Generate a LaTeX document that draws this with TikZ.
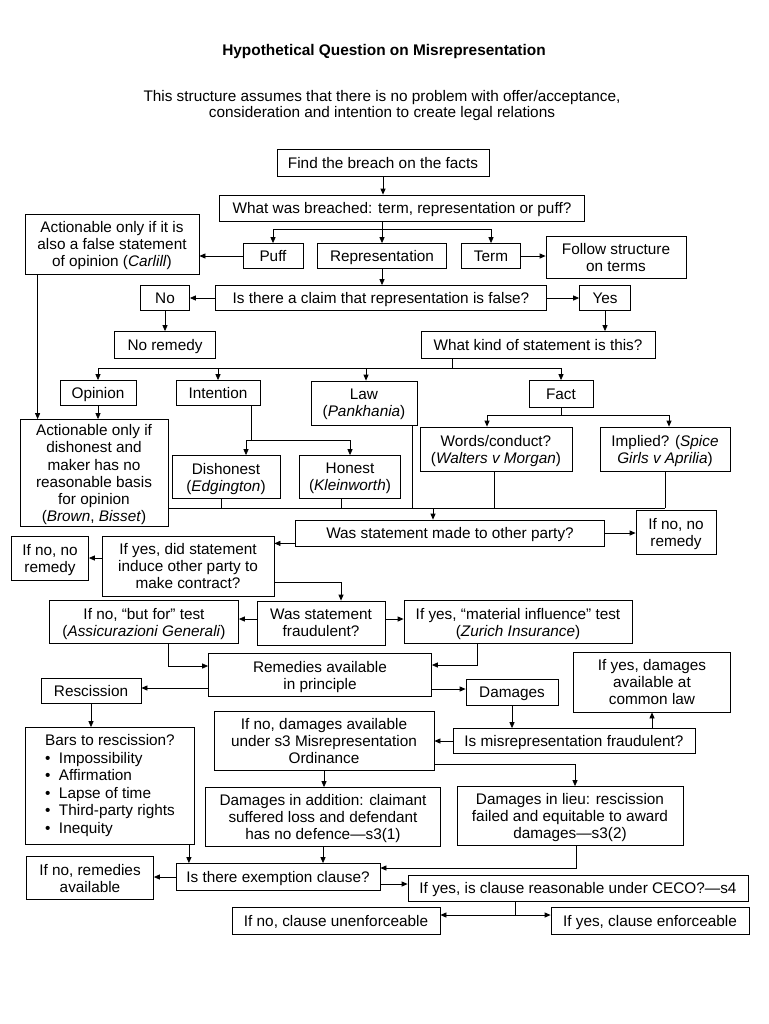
\documentclass[tikz,border=0pt]{standalone}
\usepackage{fontspec}
\setmainfont{Liberation Sans}
\usepackage{tikz}
\usetikzlibrary{positioning,calc}
\usetikzlibrary{arrows.meta}
\tikzset{
	box/.style={draw=black,line width=0.6pt,fill=white,align=center,inner sep=1pt,text depth=0pt,
		font=\fontsize{11.5}{12.8}\selectfont},
	sz/.style 2 args={minimum width=#1*0.75pt,minimum height=#2*0.75pt},
	link/.style={draw=black,line width=0.6pt},
	arr/.style={link,-{Triangle[length=4.5pt,width=3.8pt]}},
}

\begin{document}
\begin{tikzpicture}[x=0.75pt,y=-0.75pt]
	\useasboundingbox (0,0) rectangle (768,1024);
	% headings
	\node[font=\bfseries\fontsize{11.55}{13}\selectfont] (title) at (384,52) {Hypothetical Question on Misrepresentation};
	\node[align=center,font=\fontsize{11.5}{12}\selectfont] (sub) at (382,106)
		{This structure assumes that there is no problem with offer/acceptance,\\consideration and intention to create legal relations};
	% top part
	\node[box,sz={212}{27}] (find) at (383,163) {Find the breach on the facts};
	\node[box,sz={365}{26}] (what) at (402,208) {What was breached: term, representation or puff?};
	\node[box,sz={174}{60}] (carlill) at (112,244) {Actionable only if it is\\also a false statement\\of opinion (\textit{Carlill})};
	\node[box,sz={60}{25}] (puff) at (273,256) {Puff};
	\node[box,sz={129}{25}] (repr) at (382,256) {Representation};
	\node[box,sz={59}{25}] (term) at (491,256) {Term};
	\node[box,sz={140}{42}] (follow) at (616,257) {Follow structure\\on terms};
	\node[box,sz={49}{25}] (no) at (165,298) {No};
	\node[box,sz={331}{25}] (claim) at (381,298) {Is there a claim that representation is false?};
	\node[box,sz={51}{25}] (yes) at (605,298) {Yes};
	\node[box,sz={101}{27}] (noremedy) at (165,345) {No remedy};
	\node[box,sz={234}{27}] (kind) at (538,345) {What kind of statement is this?};
	% kinds of statement
	\node[box,sz={76}{25}] (opinion) at (98,393) {Opinion};
	\node[box,sz={84}{25}] (intention) at (218,393) {Intention};
	\node[box,sz={106}{44}] (law) at (364,403) {Law\\(\textit{Pankhania})};
	\node[box,sz={64}{27}] (fact) at (561,394) {Fact};
	\node[box,sz={148}{107}] (act) at (94,473) {Actionable only if\\dishonest and\\maker has no\\reasonable basis\\for opinion\\(\textit{Brown}, \textit{Bisset})};
	\node[box,sz={108}{43}] (dishonest) at (226,477) {Dishonest\\(\textit{Edgington})};
	\node[box,sz={101}{43}] (honest) at (350,477) {Honest\\(\textit{Kleinworth})};
	\node[box,sz={152}{44}] (words) at (496,449) {Words/conduct?\\(\textit{Walters v Morgan})};
	\node[box,sz={130}{44}] (implied) at (665,449) {Implied? (\textit{Spice}\\\textit{Girls v Aprilia})};
	% inducement
	\node[box,sz={309}{26}] (made) at (450,533) {Was statement made to other party?};
	\node[box,sz={80}{44}] (nor) at (676,532) {If no, no\\remedy};
	\node[box,sz={77}{44}] (nol) at (50,558) {If no, no\\remedy};
	\node[box,sz={172}{60}] (induce) at (188,566) {If yes, did statement\\induce other party to\\make contract?};
	\node[box,sz={189}{43}] (butfor) at (144,622) {If no, “but for” test\\(\textit{Assicurazioni Generali})};
	\node[box,sz={128}{44}] (fraud) at (321,623) {Was statement\\fraudulent?};
	\node[box,sz={228}{43}] (material) at (518,622) {If yes, “material influence” test\\(\textit{Zurich Insurance})};
	% remedies
	\node[box,sz={223}{43}] (remedies) at (320,675) {Remedies available\\in principle};
	\node[box,sz={100}{25}] (rescission) at (91,691) {Rescission};
	\node[box,sz={92}{26}] (damages) at (512,692) {Damages};
	\node[box,sz={157}{60}] (common) at (652,682) {If yes, damages\\available at\\common law};
	\node[box,sz={220}{59}] (ifnodam) at (324,741) {If no, damages available\\under s3 Misrepresentation\\Ordinance};
	\node[box,sz={242}{25}] (isfraud) at (574,741) {Is misrepresentation fraudulent?};
	\node[box,sz={169}{117},text depth={}] (bars) at (110,786) {\renewcommand{\arraystretch}{1.03}\begin{tabular}{@{}c@{}}Bars to rescission?\\
		\begin{tabular}{@{}l@{}}\textbullet\ \ Impossibility\\\textbullet\ \ Affirmation\\\textbullet\ \ Lapse of time\\\textbullet\ \ Third-party rights\\\textbullet\ \ Inequity\end{tabular}\end{tabular}};
	\node[box,sz={235}{59}] (addition) at (323,817) {Damages in addition: claimant\\suffered loss and defendant\\has no defence—s3(1)};
	\node[box,sz={226}{59}] (lieu) at (570,816) {Damages in lieu: rescission\\failed and equitable to award\\damages—s3(2)};
	% exemption clause
	\node[box,sz={127}{43}] (ifnorem) at (90,878) {If no, remedies\\available};
	\node[box,sz={204}{27}] (exempt) at (278,877) {Is there exemption clause?};
	\node[box,sz={340}{26}] (ifyes) at (578,888) {If yes, is clause reasonable under CECO?—s4};
	\node[box,sz={208}{27}] (unenf) at (336,921) {If no, clause unenforceable};
	\node[box,sz={198}{27}] (enf) at (650,921) {If yes, clause enforceable};

	% connector points
	\coordinate (wj) at (383,229);
	\coordinate (kj) at (452,368);
	\coordinate (ij) at (251,440);
	\coordinate (fj) at (561,415);
	\coordinate (mj) at (433,508);
	\coordinate (yj) at (515,915);
	\coordinate (cl) at ($(carlill.south west)+(13,0)$);
	\coordinate (dh) at ($(dishonest.south)+(-5,0)$);
	\coordinate (hn) at ($(honest.south)+(-9,0)$);
	\coordinate (lw) at ($(law.south east)+(-5,0)$);
	\coordinate (wd) at ($(words.south)+(-2,0)$);
	\coordinate (mdw) at ($(made.south west)+(0,-3)$);
	\coordinate (fw) at ($(fraud.west)+(0,-4)$);
	\coordinate (fe) at ($(fraud.east)+(0,-4)$);
	\coordinate (rw) at ($(remedies.west)+(0,13)$);
	\coordinate (re) at ($(remedies.east)+(0,14)$);
	\coordinate (bs) at ($(bars.south east)+(-6,0)$);
	\coordinate (ee) at ($(exempt.east)+(0,7)$);

	% connectors, top part
	\draw[arr] (find) -- (find |- what.north);
	\draw[arr] (what.south -| repr) -- (repr.north);
	\draw[arr] (wj) -| (puff);
	\draw[arr] (wj) -| (term);
	\draw[arr] (puff.west) -- (puff.west -| carlill.east);
	\draw[arr] (term.east) -- (term.east -| follow.west);
	\draw[arr] (repr.south) -- (repr.south |- claim.north);
	\draw[arr] (claim.west) -- (no.east);
	\draw[arr] (claim.east) -- (yes.west);
	\draw[arr] (no) -- (noremedy);
	\draw[arr] (yes.south) -- (yes.south |- kind.north);
	\draw[arr] (cl) -- (cl |- act.north);
	% kinds of statement
	\draw[link] (kind.south -| kj) -- (kj);
	\draw[arr] (kj) -| (opinion);
	\draw[arr] (kj) -| ($(law.north)+(2,0)$);
	\draw[arr] (kj) -| (intention);
	\draw[arr] (kj) -| (fact);
	\draw[arr] (opinion.south) -- (opinion.south |- act.north);
	\draw[link] (intention.south -| ij) -- (ij);
	\draw[arr] (ij) -| ($(dishonest.north)+(20,0)$);
	\draw[arr] (ij) -| (honest);
	\draw[link] (fact.south) -- (fj);
	\draw[arr] (fj) -| ($(words.north)+(-9,0)$);
	\draw[arr] (fj) -| ($(implied.north)+(4,0)$);
	% all paths meet before the party question
	\draw[link] (act.east |- mj) -- (implied.south |- mj);
	\draw[link] (dh) -- (dh |- mj);
	\draw[link] (hn) -- (hn |- mj);
	\draw[link] (lw) -- (lw |- mj);
	\draw[link] (wd) -- (wd |- mj);
	\draw[link] (implied.south) -- (implied.south |- mj);
	\draw[arr] (mj) -- (mj |- made.north);
	% inducement
	\draw[arr] (mdw) -- (mdw -| induce.east);
	\draw[arr] (made.east) -- (made.east -| nor.west);
	\draw[arr] (nol.east -| induce.west) -- (nol.east);
	\draw[arr] ($(induce.east)+(0,16)$) -| ($(fraud.north)+(20,0)$);
	\draw[arr] (fw) -- (fw -| butfor.east);
	\draw[arr] (fe) -- (fe -| material.west);
	\draw[arr] ($(butfor.south)+(24,0)$) |- ($(remedies.west)+(0,-9)$);
	\draw[arr] ($(material.south)+(-41,0)$) |- ($(remedies.east)+(0,-10)$);
	% remedies
	\draw[arr] (rw) -- (rw -| rescission.east);
	\draw[arr] (re) -- (re -| damages.west);
	\draw[arr] (rescission.south) -- (rescission.south |- bars.north);
	\draw[arr] (damages.south) -- (damages.south |- isfraud.north);
	\draw[arr] (common.south |- isfraud.north) -- (common.south);
	\draw[arr] (isfraud.west) -- (isfraud.west -| ifnodam.east);
	\draw[arr] (ifnodam.south) -- (ifnodam.south |- addition.north);
	\draw[arr] ($(ifnodam.south east)+(0,-7)$) -| ($(lieu.north)+(5,0)$);
	% exemption clause
	\draw[arr] (bs) -- (bs |- exempt.north);
	\draw[arr] (addition.south) -- (addition.south |- exempt.north);
	\draw[arr] ($(lieu.south)+(6,0)$) |- ($(exempt.east)+(0,-9)$);
	\draw[arr] (exempt.west) -- (exempt.west -| ifnorem.east);
	\draw[arr] (ee) -- (ee -| ifyes.west);
	\draw[link] (ifyes.south -| yj) -- (yj);
	\draw[arr] (yj) -- (yj -| unenf.east);
	\draw[arr] (yj) -- (yj -| enf.west);
\end{tikzpicture}
\end{document}
